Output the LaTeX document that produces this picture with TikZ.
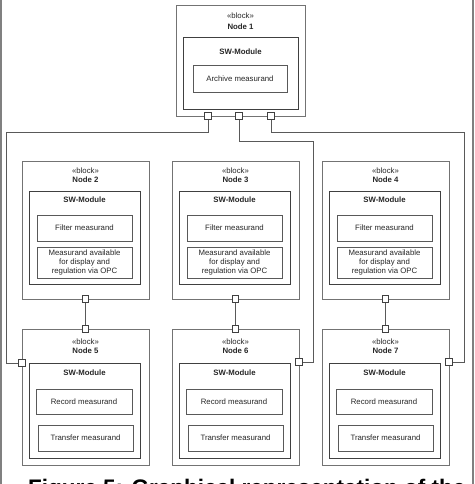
\documentclass[tikz,border=0pt]{standalone}
\usepackage{fontspec}
\setmainfont{Liberation Sans}
\usepackage{tikz}
\newcommand\diagfont{\fontsize{7.8}{8.6}\selectfont}

\begin{document}
\begin{tikzpicture}[x=1pt, y=-1pt,
      every node/.style={inner sep=0pt, font=\diagfont, text=black!85},
      blockbox/.style={draw=black!55, line width=0.7pt, rectangle},
      swbox/.style={draw=black!75, line width=0.8pt, rectangle},
      funcbox/.style={draw=black!65, line width=0.7pt, rectangle, align=center},
      port/.style={draw=black!75, fill=white, line width=0.7pt, minimum size=6.5pt},
      link/.style={draw=black!65, line width=0.8pt},
      bold/.style={font=\diagfont\bfseries}]
    \useasboundingbox (0,0) rectangle (474,484);
    \clip (0,0) rectangle (474,484);
    % frame edges of the scan
    \fill[black!50] (0,0) rectangle (2,484);
    \fill[black!50] (472,0) rectangle (474,484);

    % Node 1
    \node[blockbox, minimum width=129pt, minimum height=111pt] (blk1) at (240.5,60.5) {};
    \node at (240.5,16) {«block»};
    \node[bold] at (240.5,27) {Node 1};
    \node[swbox, minimum width=115pt, minimum height=72pt] (sw1) at (240.5,73) {};
    \node[bold] at (240.5,52) {SW-Module};
    \node[funcbox, minimum width=94pt, minimum height=27pt] (arch1) at (240,78.5) {Archive measurand};
    \node[port] (p1a) at (208,116) {};
    \node[port] (p1b) at (239,116) {};
    \node[port] (p1c) at (271,116) {};

    % Nodes 2-4
    \foreach \n/\x in {2/22, 3/172, 4/322} {
      \node[blockbox, minimum width=127pt, minimum height=138pt] (blk\n) at ({\x+63.5},230) {};
      \node at ({\x+63.5},171) {«block»};
      \node[bold] at ({\x+63.5},180) {Node \n};
      \node[swbox, minimum width=111pt, minimum height=93pt] (sw\n) at ({\x+62.5},237.5) {};
      \node[bold] at ({\x+62.5},200) {SW-Module};
      \node[funcbox, minimum width=95pt, minimum height=26pt] (filt\n) at ({\x+62.5},228) {Filter measurand};
      \node[funcbox, minimum width=95pt, minimum height=31pt] (meas\n) at ({\x+62.5},262.5)
        {Measurand available\\for display and\\regulation via OPC};
      \node[port] (p\n b) at ({\x+63.5},299) {};
    }

    % Nodes 5-7
    \foreach \n/\x in {5/22, 6/172, 7/322} {
      \node[blockbox, minimum width=127pt, minimum height=136pt] (blk\n) at ({\x+63.5},397) {};
      \node at ({\x+63.5},342) {«block»};
      \node[bold] at ({\x+63.5},351) {Node \n};
      \node[swbox, minimum width=111pt, minimum height=95pt] (sw\n) at ({\x+62.5},410.5) {};
      \node[bold] at ({\x+62.5},373) {SW-Module};
      \node[funcbox, minimum width=96pt, minimum height=25pt] (rec\n) at ({\x+62},401.5) {Record measurand};
      \node[funcbox, minimum width=95pt, minimum height=26pt] (trans\n) at ({\x+63.5},438) {Transfer measurand};
      \node[port] (p\n t) at ({\x+63.5},329) {};
    }
    \node[port] (p5l) at (22,363) {};
    \node[port] (p6r) at (299,362) {};
    \node[port] (p7r) at (449,362) {};

    % connectors
    \coordinate (bendL) at (6,132);
    \coordinate (bendM) at (313,141);
    \coordinate (bendR) at (464,132);
    \draw[link] (p1a.south) |- (bendL) |- (p5l.west);
    \draw[link] (p1b.south) |- (bendM) |- (p6r.east);
    \draw[link] (p1c.south) |- (bendR) |- (p7r.east);
    \draw[link] (p2b.south) -- (p5t.north);
    \draw[link] (p3b.south) -- (p6t.north);
    \draw[link] (p4b.south) -- (p7t.north);

    % caption, cut off by the page edge as in the scan
    \node[anchor=base west, font=\fontsize{22.5}{26}\selectfont\bfseries, text=black] (cap) at (28,495)
      {Figure 5: Graphical representation of the};
  \end{tikzpicture}
\end{document}
